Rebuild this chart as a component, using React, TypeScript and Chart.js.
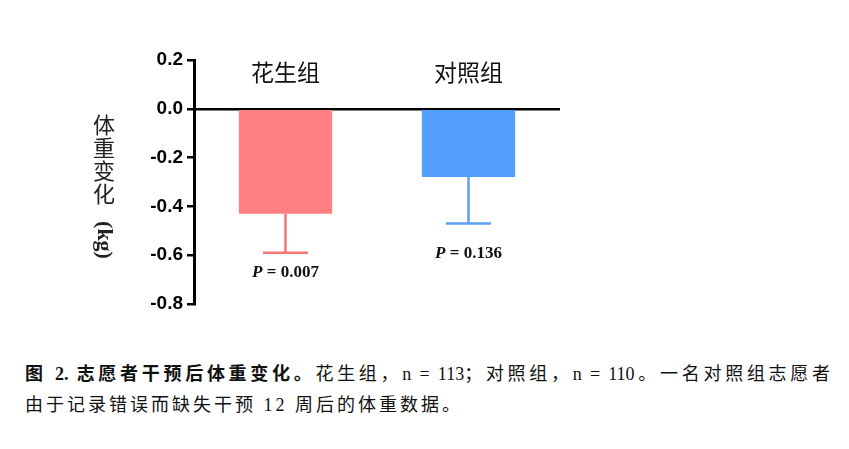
import React, { useEffect, useRef } from "react";
import { Chart, registerables } from "chart.js";

Chart.register(...registerables);

const categories = ["花生组", "对照组"];
const meanChange = [-0.43, -0.28];
const errorEnd = [-0.59, -0.47];
const pLabels = ["0.007", "0.136"];
const yTicks = [0.2, 0.0, -0.2, -0.4, -0.6, -0.8];
const barColors = ["#FF8080", "#529FFF"];
const errColors = ["#F5777C", "#5BA0F2"];
const yTitleChars = ["体", "重", "变", "化"];
const yTitleUnit = "(kg)";
const captionBold = "图 2. 志愿者干预后体重变化。";
const captionLine1 = "花生组，n = 113；对照组，n = 110。一名对照组志愿者";
const captionLine2 = "由于记录错误而缺失干预 12 周后的体重数据。";

const CJK = '"Noto Sans CJK SC", "Noto Sans", sans-serif';
const SERIF = '"Liberation Serif", "DejaVu Serif", serif';

const customDraw = {
  id: "customDraw",
  afterDatasetsDraw(chart: any) {
    const ctx = chart.ctx;
    const yScale = chart.scales.y;
    const meta = chart.getDatasetMeta(0);
    const area = chart.chartArea;
    ctx.save();
    meta.data.forEach((bar: any, i: number) => {
      const x = bar.x;
      const yMean = yScale.getPixelForValue(meanChange[i]);
      const yErr = yScale.getPixelForValue(errorEnd[i]);
      // error bar
      ctx.strokeStyle = errColors[i];
      ctx.lineWidth = 2.5;
      ctx.beginPath();
      ctx.moveTo(x, yMean);
      ctx.lineTo(x, yErr);
      ctx.moveTo(x - 22.5, yErr);
      ctx.lineTo(x + 22.5, yErr);
      ctx.stroke();
      // category label
      ctx.fillStyle = "#111";
      ctx.font = `23px ${CJK}`;
      ctx.textAlign = "center";
      ctx.textBaseline = "middle";
      ctx.fillText(categories[i], x, area.top + 12);
      // P label
      const offsets = [20, 30];
      const py = yErr + offsets[i];
      ctx.font = `italic bold 17px ${SERIF}`;
      const wP = ctx.measureText("P").width;
      const rest = " = " + pLabels[i];
      ctx.font = `bold 17px ${SERIF}`;
      const wR = ctx.measureText(rest).width;
      const startX = x - (wP + wR) / 2;
      ctx.textAlign = "left";
      ctx.font = `italic bold 17px ${SERIF}`;
      ctx.fillText("P", startX, py);
      ctx.font = `bold 17px ${SERIF}`;
      ctx.fillText(rest, startX + wP, py);
    });
    // y title
    ctx.fillStyle = "#222";
    ctx.textAlign = "center";
    ctx.textBaseline = "middle";
    ctx.font = `22px ${CJK}`;
    const tx = 104;
    yTitleChars.forEach((c, k) => {
      ctx.fillText(c, tx, 125 + k * 23);
    });
    ctx.translate(tx, 240);
    ctx.rotate(Math.PI / 2);
    ctx.font = `bold 22px ${SERIF}`;
    ctx.fillText(yTitleUnit, 0, 0);
    ctx.restore();
  },
};

export default function App() {
  const ref = useRef<HTMLCanvasElement | null>(null);
  useEffect(() => {
    if (!ref.current) return;
    const chart = new Chart(ref.current, {
      type: "bar",
      data: {
        labels: categories,
        datasets: [
          {
            data: meanChange,
            backgroundColor: barColors,
            borderWidth: 0,
            barPercentage: 0.51,
            categoryPercentage: 1.0,
          },
        ],
      },
      options: {
        responsive: false,
        animation: false,
        devicePixelRatio: 1,
        layout: { padding: { left: 120, top: 60, right: 289, bottom: 36 } },
        plugins: { legend: { display: false }, tooltip: { enabled: false } },
        scales: {
          x: { display: false },
          y: {
            min: -0.8,
            max: 0.2,
            afterFit: (s: any) => {
              s.width = 74;
            },
            afterBuildTicks: (s: any) => {
              s.ticks = yTicks.map((v) => ({ value: v }));
            },
            border: { display: true, color: "#000", width: 3 },
            grid: {
              drawOnChartArea: true,
              drawTicks: true,
              tickLength: 7,
              tickColor: "#000",
              tickWidth: 2.5,
              lineWidth: 2.5,
              color: (c: any) => (c.tick && Math.abs(c.tick.value) < 1e-9 ? "#000" : "rgba(0,0,0,0)"),
            },
            ticks: {
              padding: 4,
              color: "#000",
              font: { family: '"Liberation Sans", Arial, sans-serif', size: 19, weight: "bold" },
              callback: (v: any) => Number(v).toFixed(1),
            },
          },
        },
      },
      plugins: [customDraw],
    } as any);
    return () => chart.destroy();
  }, []);

  return (
    <div style={{ position: "fixed", left: 0, top: 0, width: 849, height: 449, background: "#fff" }}>
      <canvas ref={ref} width={849} height={340} style={{ position: "absolute", left: 0, top: 0 }} />
      <div
        style={{
          position: "absolute",
          left: 25,
          top: 364,
          width: 805,
          fontSize: 18,
          lineHeight: "20px",
          fontFamily: `"Liberation Serif", "Noto Sans CJK SC", serif`,
          textAlign: "justify",
          textAlignLast: "justify",
          whiteSpace: "nowrap",
          color: "#111",
        } as any}
      >
        <b>{captionBold}</b>
        {captionLine1}
      </div>
      <div
        style={{
          position: "absolute",
          left: 25,
          top: 395,
          fontSize: 18,
          lineHeight: "20px",
          letterSpacing: 3,
          fontFamily: `"Liberation Serif", "Noto Sans CJK SC", serif`,
          whiteSpace: "nowrap",
          color: "#111",
        }}
      >
        {captionLine2}
      </div>
    </div>
  );
}
